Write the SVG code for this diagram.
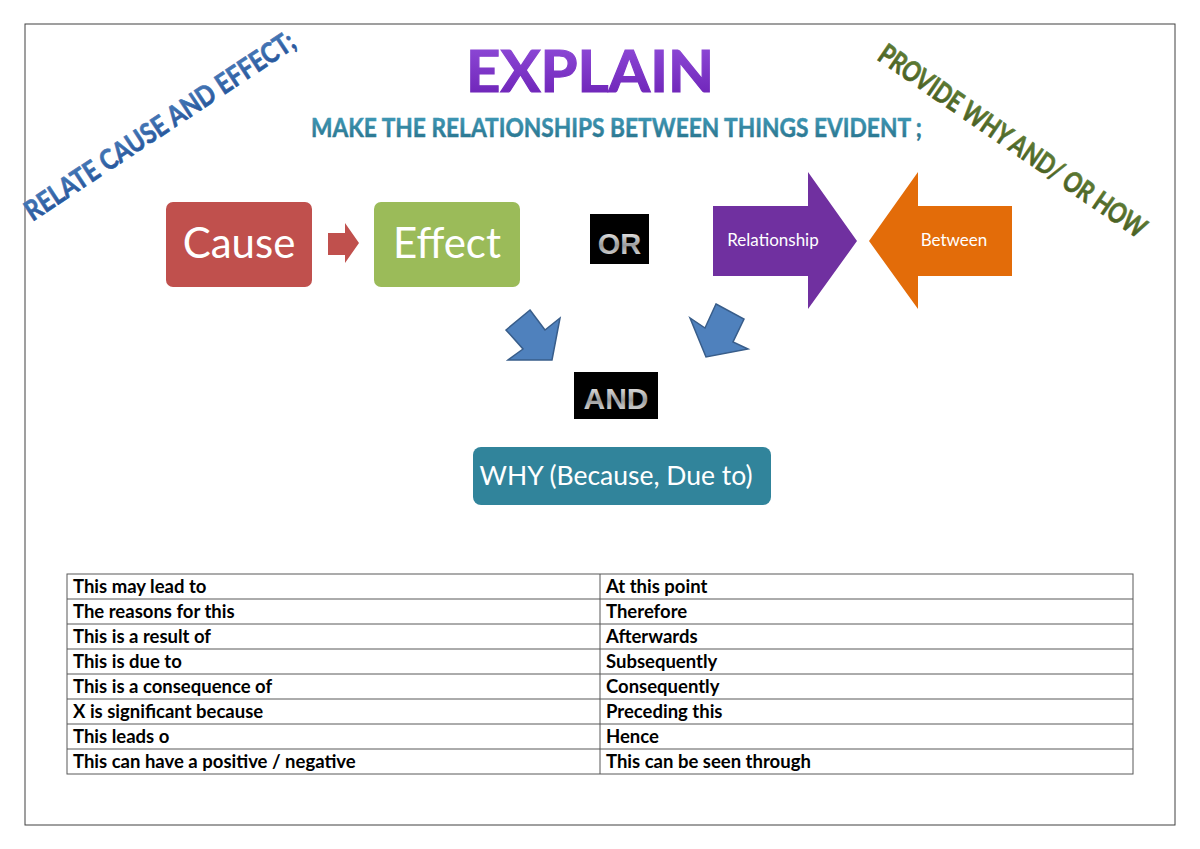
<svg xmlns="http://www.w3.org/2000/svg" width="1200" height="849" viewBox="0 0 1200 849">
<defs>
<linearGradient id="gPurple" x1="0" y1="0" x2="0" y2="1"><stop offset="0" stop-color="#9350dc"/><stop offset="1" stop-color="#6a1fb4"/></linearGradient>
<linearGradient id="gTeal" x1="0" y1="0" x2="0" y2="1"><stop offset="0" stop-color="#45a2c0"/><stop offset="1" stop-color="#266f88"/></linearGradient>
<linearGradient id="gBlue" x1="0" y1="0" x2="0" y2="1"><stop offset="0" stop-color="#4f81bd"/><stop offset="1" stop-color="#1f4f96"/></linearGradient>
<linearGradient id="gGreen" x1="0" y1="0" x2="0" y2="1"><stop offset="0" stop-color="#64843a"/><stop offset="1" stop-color="#44591f"/></linearGradient>
<linearGradient id="gMetal" x1="0" y1="0" x2="0" y2="1"><stop offset="0" stop-color="#ffffff"/><stop offset="0.55" stop-color="#9a9a9a"/><stop offset="1" stop-color="#eeeeee"/></linearGradient>
</defs>
<style>
.lbl{font-family:Lato,"Open Sans","Liberation Sans",sans-serif;fill:#ffffff}
.cell{font-family:Lato,"Open Sans","Liberation Sans",sans-serif;font-weight:bold;font-size:18.5px;fill:#000}
.grid{stroke:#595959;stroke-width:1;fill:none}
.blueArrow{fill:#4f81bd;stroke:#385d8a;stroke-width:1.5}
.metal{font-family:"Liberation Sans",Arial,sans-serif;font-weight:bold;fill:url(#gMetal)}
.hdr{font-family:Lato,"Open Sans","Liberation Sans",sans-serif;font-weight:bold}
</style>
<rect x="25" y="24" width="1150" height="801" fill="#fff" stroke="#404040" stroke-width="1"/>

<g id="title">
<text class="hdr" x="466" y="92" font-size="58" fill="url(#gPurple)" stroke="url(#gPurple)" stroke-width="1.2" textLength="248" lengthAdjust="spacingAndGlyphs">EXPLAIN</text>
</g>
<g id="subtitle">
<text class="hdr" x="311" y="137" font-size="27" fill="url(#gTeal)" stroke="url(#gTeal)" stroke-width="0.5" textLength="611" lengthAdjust="spacingAndGlyphs">MAKE THE RELATIONSHIPS BETWEEN THINGS EVIDENT ;</text>
</g>
<g id="relate" transform="translate(165,134) rotate(-33.5)">
<text class="hdr" x="-159" y="0" font-size="28" fill="url(#gBlue)" stroke="url(#gBlue)" stroke-width="0.7" textLength="318" lengthAdjust="spacingAndGlyphs">RELATE CAUSE AND EFFECT;</text>
</g>
<g id="provide" transform="translate(1007,149) rotate(34.5)">
<text class="hdr" x="-159" y="0" font-size="28" fill="url(#gGreen)" stroke="url(#gGreen)" stroke-width="0.7" textLength="318" lengthAdjust="spacingAndGlyphs">PROVIDE WHY AND/ OR HOW</text>
</g>

<g id="cause">
<rect x="166" y="202" width="146" height="85" rx="7" fill="#c0504d"/>
<text class="lbl" x="239" y="258" font-size="42" text-anchor="middle">Cause</text>
</g>
<g id="effect">
<rect x="374" y="202" width="146" height="85" rx="7" fill="#9bbb59"/>
<text class="lbl" x="447" y="258" font-size="42" text-anchor="middle">Effect</text>
</g>
<g id="or">
<rect x="590" y="214" width="59" height="50" fill="#000"/>
<text class="metal" x="619.5" y="254" font-size="29" text-anchor="middle">OR</text>
</g>
<g id="relationship">
<polygon points="713,206 808,206 808,172 857,241 808,309 808,276 713,276" fill="#7030a0"/>
<text class="lbl" x="773" y="246" font-size="17" text-anchor="middle">Relationship</text>
</g>
<g id="between">
<polygon points="1012,206 918,206 918,172 869,241 918,309 918,276 1012,276" fill="#e36c09"/>
<text class="lbl" x="954" y="246" font-size="17" text-anchor="middle">Between</text>
</g>
<g id="and">
<rect x="574" y="372" width="84" height="47" fill="#000"/>
<text class="metal" x="616" y="409" font-size="30" text-anchor="middle">AND</text>
</g>
<g id="why">
<rect x="473" y="447" width="298" height="58" rx="8" fill="#31849b"/>
<text class="lbl" x="616" y="485" font-size="26.5" text-anchor="middle">WHY (Because, Due to)</text>
</g>

<g id="connectors">
<polygon points="328,233 345,233 345,223 359,243 345,263 345,255 328,255" fill="#c0504d"/>
<polygon class="blueArrow" points="530,310 545,330 560,318 552,360 508,360 523,349 506,330"/>
<polygon class="blueArrow" points="716,304 744,319 733,342 748,349 706,357 690,318 705,328"/>
</g>

<g id="table">
<rect class="grid" x="67" y="574" width="1066" height="200"/>
<line class="grid" x1="600" y1="574" x2="600" y2="774"/>
<line class="grid" x1="67" y1="599" x2="1133" y2="599"/>
<line class="grid" x1="67" y1="624" x2="1133" y2="624"/>
<line class="grid" x1="67" y1="649" x2="1133" y2="649"/>
<line class="grid" x1="67" y1="674" x2="1133" y2="674"/>
<line class="grid" x1="67" y1="699" x2="1133" y2="699"/>
<line class="grid" x1="67" y1="724" x2="1133" y2="724"/>
<line class="grid" x1="67" y1="749" x2="1133" y2="749"/>
<text class="cell" x="73" y="593">This may lead to</text>
<text class="cell" x="73" y="618">The reasons for this</text>
<text class="cell" x="73" y="643">This is a result of</text>
<text class="cell" x="73" y="668">This is due to</text>
<text class="cell" x="73" y="693">This is a consequence of</text>
<text class="cell" x="73" y="718">X is significant because</text>
<text class="cell" x="73" y="743">This leads o</text>
<text class="cell" x="73" y="768">This can have a positive / negative</text>
<text class="cell" x="606" y="593">At this point</text>
<text class="cell" x="606" y="618">Therefore</text>
<text class="cell" x="606" y="643">Afterwards</text>
<text class="cell" x="606" y="668">Subsequently</text>
<text class="cell" x="606" y="693">Consequently</text>
<text class="cell" x="606" y="718">Preceding this</text>
<text class="cell" x="606" y="743">Hence</text>
<text class="cell" x="606" y="768">This can be seen through</text>
</g>
</svg>
